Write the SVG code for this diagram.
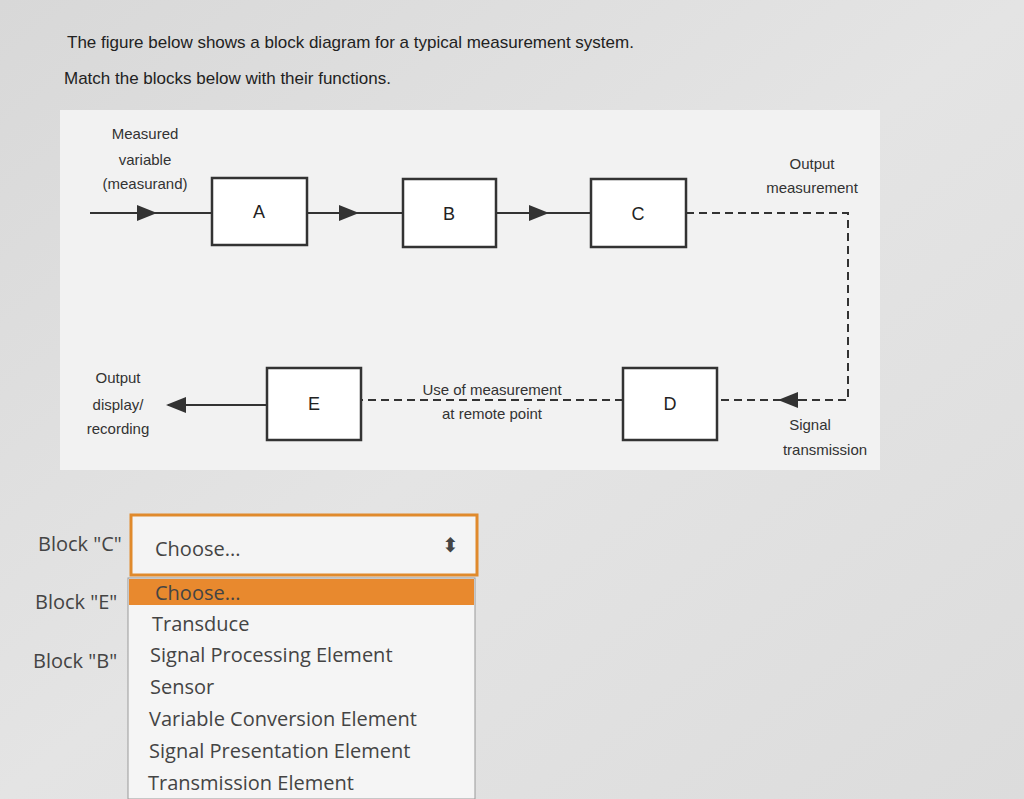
<svg xmlns="http://www.w3.org/2000/svg" width="1024" height="799" viewBox="0 0 1024 799">
<defs>
<linearGradient id="bg" x1="0" y1="0" x2="1" y2="1"><stop offset="0" stop-color="#d8d8d8"/><stop offset="0.5" stop-color="#e4e4e4"/><stop offset="1" stop-color="#dcdcdc"/></linearGradient>
<marker id="ar" markerWidth="10" markerHeight="8" refX="9" refY="4" orient="auto"><path d="M0,0 L10,4 L0,8 Z" fill="#333"/></marker>
</defs>
<style>
.t{font-family:"Liberation Sans",Arial,sans-serif;fill:#222}
.lbl{font-family:"Liberation Sans",Arial,sans-serif;fill:#333;font-size:15px}
.box{fill:#fff;stroke:#333;stroke-width:2.5}
.ln{stroke:#333;stroke-width:2;fill:none}
.ds{stroke:#333;stroke-width:2;fill:none;stroke-dasharray:8,5}
.opt{font-family:"Open Sans","Liberation Sans",sans-serif;font-size:20px;fill:#444}
</style>
<rect width="1024" height="799" fill="url(#bg)"/>
<rect x="60" y="110" width="820" height="360" fill="#f2f2f2"/>
<text class="t" x="67" y="48" font-size="17">The figure below shows a block diagram for a typical measurement system.</text>
<text class="t" x="64" y="84" font-size="17">Match the blocks below with their functions.</text>
<text class="lbl" x="145" y="139" text-anchor="middle">Measured</text>
<text class="lbl" x="145" y="165" text-anchor="middle">variable</text>
<text class="lbl" x="145" y="189" text-anchor="middle">(measurand)</text>
<text class="lbl" x="812" y="169" text-anchor="middle">Output</text>
<text class="lbl" x="812" y="193" text-anchor="middle">measurement</text>
<text class="lbl" x="118" y="383" text-anchor="middle">Output</text>
<text class="lbl" x="118" y="410" text-anchor="middle">display/</text>
<text class="lbl" x="118" y="434" text-anchor="middle">recording</text>
<text class="lbl" x="492" y="395" text-anchor="middle">Use of measurement</text>
<text class="lbl" x="492" y="419" text-anchor="middle">at remote point</text>
<text class="lbl" x="810" y="430" text-anchor="middle">Signal</text>
<text class="lbl" x="825" y="455" text-anchor="middle">transmission</text>
<g id="connectors">
<line class="ln" x1="90" y1="213" x2="155" y2="213" marker-end="url(#ar)"/><line class="ln" x1="150" y1="213" x2="212" y2="213"/>
<line class="ln" x1="307" y1="213" x2="357" y2="213" marker-end="url(#ar)"/><line class="ln" x1="352" y1="213" x2="403" y2="213"/>
<line class="ln" x1="496" y1="213" x2="547" y2="213" marker-end="url(#ar)"/><line class="ln" x1="542" y1="213" x2="591" y2="213"/>
<path class="ds" d="M686,213 H848 V400 H717"/>
<line class="ln" x1="800" y1="400" x2="780" y2="400" marker-end="url(#ar)"/>
<line class="ds" x1="623" y1="400" x2="361" y2="400"/>
<line class="ln" x1="267" y1="405" x2="168" y2="405" marker-end="url(#ar)"/>
</g>
<g id="A"><rect class="box" x="212" y="178" width="95" height="67"/><text class="t" x="259" y="218" font-size="18" text-anchor="middle">A</text></g>
<g id="B"><rect class="box" x="403" y="179" width="93" height="68"/><text class="t" x="449" y="220" font-size="18" text-anchor="middle">B</text></g>
<g id="C"><rect class="box" x="591" y="179" width="95" height="68"/><text class="t" x="638" y="220" font-size="18" text-anchor="middle">C</text></g>
<g id="D"><rect class="box" x="623" y="368" width="94" height="72"/><text class="t" x="670" y="410" font-size="18" text-anchor="middle">D</text></g>
<g id="E"><rect class="box" x="267" y="368" width="94" height="72"/><text class="t" x="314" y="410" font-size="18" text-anchor="middle">E</text></g>
<text class="opt" x="38" y="551" fill="#333">Block "C"</text>
<text class="opt" x="35" y="609" fill="#333">Block "E"</text>
<text class="opt" x="33" y="668" fill="#333">Block "B"</text>
<rect x="131" y="515" width="346" height="60" fill="#f4f4f4" stroke="#e08a2c" stroke-width="3"/>
<text class="opt" x="155" y="556">Choose...</text>
<text class="opt" x="442" y="552" font-size="16">⬍</text>
<rect x="128" y="578" width="347" height="221" fill="#f5f5f5" stroke="#999"/>
<rect x="129" y="579" width="345" height="26" fill="#e8892e"/>
<text class="opt" x="155" y="600" fill="#fff">Choose...</text>
<text class="opt" x="152" y="631">Transduce</text>
<text class="opt" x="150" y="662">Signal Processing Element</text>
<text class="opt" x="150" y="694">Sensor</text>
<text class="opt" x="149" y="726">Variable Conversion Element</text>
<text class="opt" x="149" y="758">Signal Presentation Element</text>
<text class="opt" x="148" y="790">Transmission Element</text>
</svg>
